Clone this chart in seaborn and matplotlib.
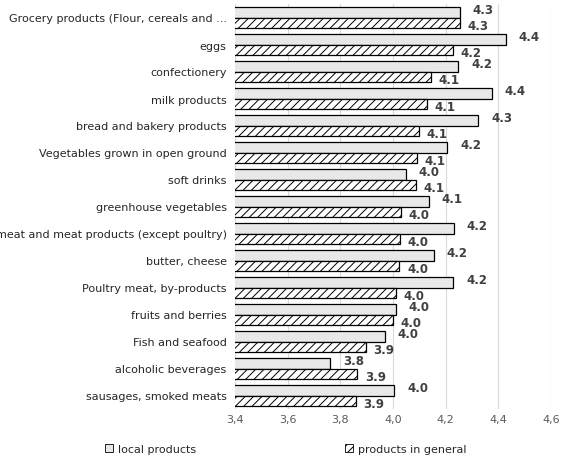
import matplotlib
matplotlib.use("Agg")
import matplotlib.pyplot as plt
import seaborn as sns
import pandas as pd
from matplotlib.patches import Rectangle

categories = ["Grocery products (Flour, cereals and ...", "eggs", "confectionery", "milk products",
              "bread and bakery products", "Vegetables grown in open ground", "soft drinks",
              "greenhouse vegetables", "meat and meat products (except poultry)", "butter, cheese",
              "Poultry meat, by-products", "fruits and berries", "Fish and seafood",
              "alcoholic beverages", "sausages, smoked meats"]
local = [4.253, 4.428, 4.247, 4.375, 4.322, 4.205, 4.048, 4.135, 4.230, 4.154, 4.227, 4.010, 3.968, 3.760, 4.003]
general = [4.253, 4.227, 4.143, 4.128, 4.097, 4.090, 4.087, 4.029, 4.025, 4.023, 4.010, 3.999, 3.896, 3.863, 3.858]
series = ["local products", "products in general"]
xticks = [3.4, 3.6, 3.8, 4.0, 4.2, 4.4, 4.6]
xticklabels = ["3,4", "3,6", "3,8", "4,0", "4,2", "4,4", "4,6"]

df = pd.DataFrame({"cat": categories * 2,
                   "val": local + general,
                   "series": [series[0]] * len(categories) + [series[1]] * len(categories)})

sns.set_theme(style="white")
plt.rcParams['font.family'] = ['DejaVu Sans']
plt.rcParams['hatch.linewidth'] = 0.7
fig = plt.figure(figsize=(5.73, 4.77), dpi=100)
ax = fig.add_axes([235/573, 1-410/477, 316/573, 405/477])
sns.barplot(data=df, y="cat", x="val", hue="series", orient="h",
            palette=["#e8e8e8", "white"], edgecolor="black", linewidth=0.9,
            width=0.8, ax=ax, legend=False)
n = len(categories)
for p in ax.patches[n:2*n]:
    p.set_hatch("////")
ax.set_xlim(3.4, 4.6)
ax.set_xticks(xticks)
ax.set_xticklabels(xticklabels, fontsize=8, color="#595959")
ax.tick_params(axis="y", labelsize=8, length=0, pad=6)
ax.tick_params(axis="x", length=0)
ax.set_xlabel(""); ax.set_ylabel("")
ax.grid(axis="x", color="#d9d9d9", linewidth=0.8)
ax.set_axisbelow(True)
for s in ax.spines.values():
    s.set_visible(False)
for i, v in enumerate(local):
    ax.text(v + 0.05, i - 0.28, f"{v:.1f}", va="center", ha="left", fontsize=8.5, fontweight="bold", color="#404040")
for i, v in enumerate(general):
    ax.text(v + 0.03, i + 0.3, f"{v:.1f}", va="center", ha="left", fontsize=8.5, fontweight="bold", color="#404040")
h1 = Rectangle((0, 0), 1, 1, facecolor="#e8e8e8", edgecolor="black", linewidth=0.6)
h2 = Rectangle((0, 0), 1, 1, facecolor="white", edgecolor="black", linewidth=0.6, hatch="////")
fig.legend([h1], [series[0]], loc="center left", bbox_to_anchor=(95/573, 1-450/477),
           frameon=False, fontsize=8, handlelength=0.7, handleheight=0.7, handletextpad=0.5)
fig.legend([h2], [series[1]], loc="center left", bbox_to_anchor=(335/573, 1-450/477),
           frameon=False, fontsize=8, handlelength=0.7, handleheight=0.7, handletextpad=0.5)
fig.savefig("out.png", dpi=100)
